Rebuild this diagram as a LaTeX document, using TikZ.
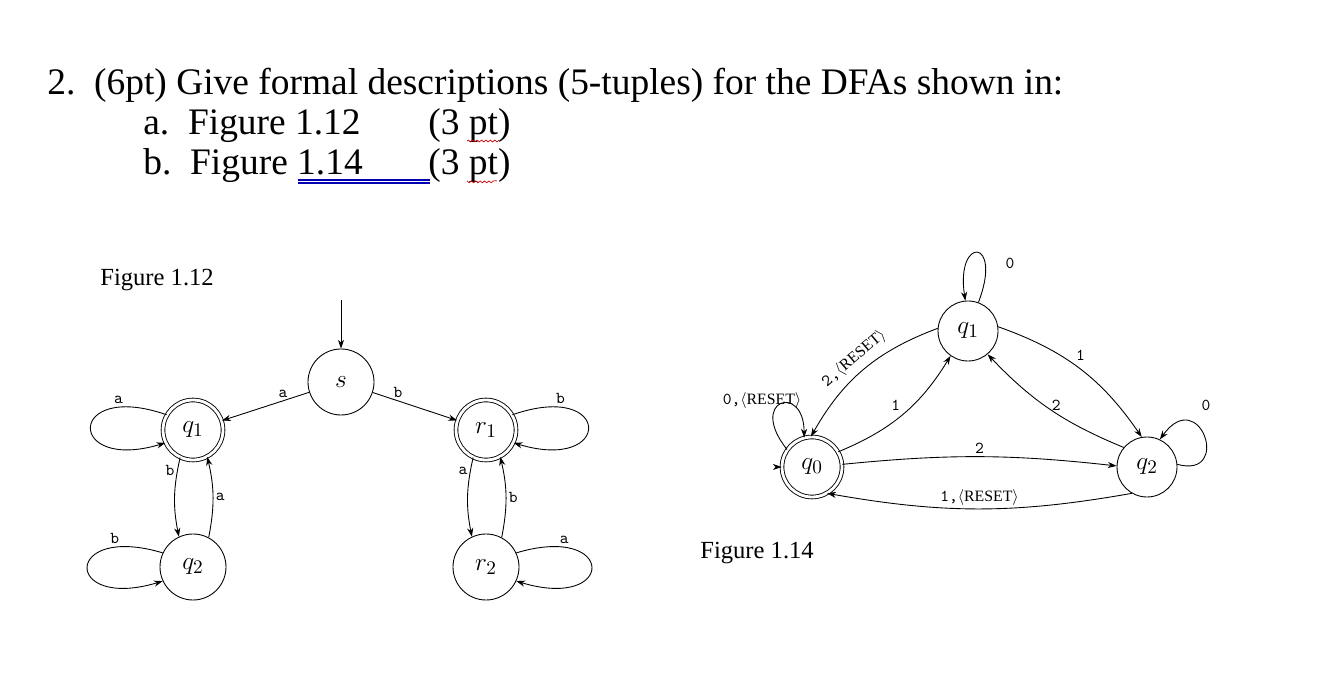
\documentclass[tikz,border=0pt]{standalone}
\usepackage{fontspec}
\setmainfont{Liberation Serif}
\usetikzlibrary{arrows.meta,decorations.pathmorphing}
\begin{document}
\begin{tikzpicture}[x=0.2mm,y=-0.2mm,
  st/.style={circle,draw,line width=0.5pt,minimum size=66*0.2mm,inner sep=0pt,font=\fontsize{15.5}{15}\selectfont},
  acc/.style={st,double,double distance=1.6pt,minimum size=60*0.2mm},
  st2/.style={st,minimum size=60*0.2mm},
  ed/.style={-{Stealth[length=5pt,width=3.5pt]},line width=0.5pt},
  lb/.style={font=\ttfamily\fontsize{9.5}{9}\selectfont,inner sep=1.5pt},
  title/.style={anchor=base west,font=\fontsize{21.3}{22}\selectfont,inner sep=0pt}]
\useasboundingbox (0,0) rectangle (1322,674);
% header
\node[title] (t1) at (47,95) {2.\ \ (6pt) Give formal descriptions (5-tuples) for the DFAs shown in:};
\node[title] (t2) at (143,135) {a.\ \ Figure 1.12};
\node[title] (t3) at (428,135) {(3 pt)};
\node[title] (t4) at (143,175) {b.\ \ Figure 1.14};
\node[title] (t5) at (428,175) {(3 pt)};
\draw[blue!70!black,line width=0.6pt] (298,180) -- (430,180) (298,183) -- (430,183);
\draw[red!80!black,line width=0.4pt,decorate,decoration={snake,amplitude=0.5pt,segment length=2.5pt}] (467,141) -- (497,141) (467,181) -- (497,181);
\node[anchor=base west,font=\fontsize{14}{14}\selectfont,inner sep=0pt] (f12) at (100,286) {Figure 1.12};
\node[anchor=base west,font=\fontsize{14}{14}\selectfont,inner sep=0pt] (f14) at (700,559) {Figure 1.14};
% Figure 1.12
\node[st] (s) at (341,382) {$s$};
\node[acc] (q1) at (193,430) {$q_1$};
\node[st] (q2) at (193,567) {$q_2$};
\node[acc] (r1) at (486,430) {$r_1$};
\node[st] (r2) at (486,567) {$r_2$};
\coordinate (sin) at (341,300);
\draw[ed] (sin) -- (s);
\draw[ed] (s) -- node[lb,above,pos=0.3] {a} (q1);
\draw[ed] (s) -- node[lb,above,pos=0.3] {b} (r1);
\draw[ed] (q1.245) to[bend right=12] node[lb,left,pos=0.15] {b} (q2.115);
\draw[ed] (q2.62) to[bend right=12] node[lb,right,pos=0.5] {a} (q1.-62);
\draw[ed] (r1.245) to[bend right=12] node[lb,left,pos=0.15] {a} (r2.115);
\draw[ed] (r2.62) to[bend right=12] node[lb,right,pos=0.5] {b} (r1.-62);
\draw[ed] (q1.150) .. controls +(-100,-35) and +(-100,30) .. node[lb,above,pos=0.2] {a} (q1.205);
\draw[ed] (q2.155) .. controls +(-100,-30) and +(-100,30) .. node[lb,above,pos=0.2] {b} (q2.205);
\draw[ed] (r1.30) .. controls +(100,-35) and +(100,30) .. node[lb,above,pos=0.2] {b} (r1.-25);
\draw[ed] (r2.25) .. controls +(100,-30) and +(100,30) .. node[lb,above,pos=0.2] {a} (r2.-25);
% Figure 1.14
\node[acc] (p0) at (812,467) {$q_0$};
\node[st2] (p1) at (968,331) {$q_1$};
\node[st2] (p2) at (1147,467) {$q_2$};
\coordinate (pin) at (778,467);
\draw[ed] (pin) -- (p0);
\draw[ed] (p0.30) to[bend right=18] node[lb,above left,pos=0.5] {1} (p1.235);
\draw[ed] (p1.175) to[bend right=20] node[lb,sloped,pos=0.5,above=2pt] {2,$\langle$\textrm{\small RESET}$\rangle$} (p0.92);
\draw[ed] (p1.8) to[bend left=18] node[lb,above right,pos=0.45] {1} (p2.100);
\draw[ed] (p2.140) to[bend left=12] node[lb,above,pos=0.45] {2} (p1.-50);
\draw[ed] (p0.5) to[bend left=6] node[lb,above,pos=0.5] {2} (p2.178);
\draw[ed] (p2.-120) to[bend left=10] node[lb,above,pos=0.5] {1,$\langle$\textrm{\small RESET}$\rangle$} (p0.-60);
\draw[ed] (p0.145) .. controls +(-40,-50) and +(0,-55) .. (p0.105);
\node[lb] (l00) at (762,401) {0,$\langle$\textrm{\small RESET}$\rangle$};
\draw[ed] (p1.70) .. controls +(25,-65) and +(-10,-65) .. (p1.95);
\node[lb] (l10) at (1010,263) {0};
\draw[ed] (p2.5) .. controls +(55,15) and +(40,-55) .. (p2.65);
\node[lb] (l20) at (1206,405) {0};
\end{tikzpicture}
\end{document}
